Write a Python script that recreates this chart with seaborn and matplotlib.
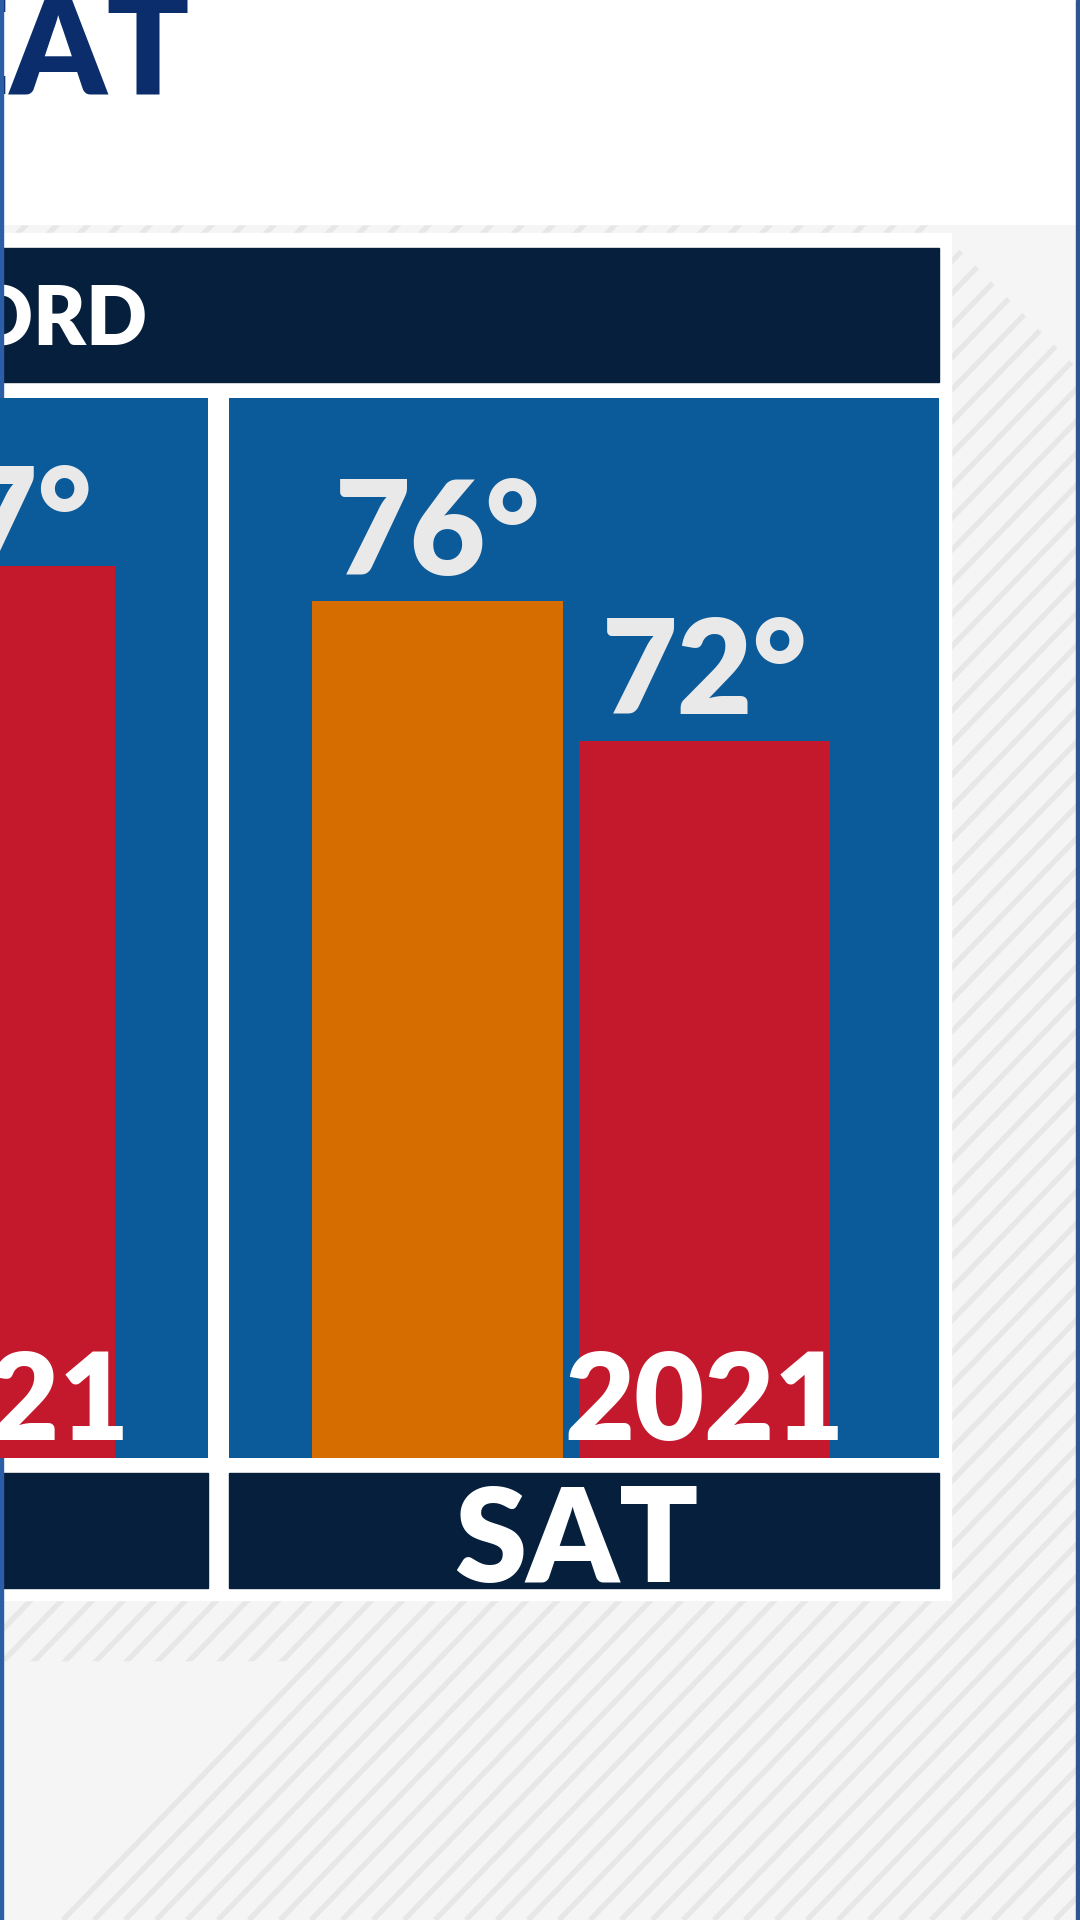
import numpy as np
import pandas as pd
import seaborn as sns
import matplotlib.pyplot as plt
from matplotlib.patches import Rectangle, Polygon
import matplotlib.transforms as mtransforms

series = ['record', '2021']
sat_temps = [76, 72]          # SAT panel: orange bar, red bar
prev_series = ['2021']
prev_temps = [77]             # panel cut off on the left, only its 2021 bar shows
day_label = 'SAT'
title = 'HEAT'
header = 'RECORD'

ORANGE = '#d66d00'
RED = '#c4182d'
PANEL = '#0b5a9a'
NAVY = '#061f3d'
TITLE_BLUE = '#0b2d6b'
GRAY = '#f5f5f5'
STRIPE = '#e7e7e7'
WEIGHT = 'heavy'

sns.set_theme(style='white')
plt.rcParams['font.family'] = ['Lato', 'DejaVu Sans']

W, H = 1080, 1920
fig = plt.figure(figsize=(10.8, 19.2), dpi=100)
fig.patch.set_facecolor('white')

# background in pixel coords
bg = fig.add_axes([0, 0, 1, 1])
bg.set_xlim(0, W)
bg.set_ylim(H, 0)
bg.axis('off')

bg.add_patch(Rectangle((0, 224), W, H - 224, color=GRAY, zorder=0))
ang = np.deg2rad(46)
for c in np.arange(-2200, 1200, 31):
    bg.plot([c, c + (H - 200) / np.tan(ang)], [H, 200], color=STRIPE,
            lw=3.8, zorder=1, solid_capstyle='butt')
bg.add_patch(Polygon([(0, 1662), (294, 1662), (37, H), (0, H)], color=GRAY, zorder=2))
bg.add_patch(Polygon([(935, 224), (W, 224), (W, 370)], color=GRAY, zorder=2))
bg.add_patch(Rectangle((0, 0), W, 224, color='white', zorder=3))
bg.add_patch(Rectangle((0, 233), 951, 1600 - 233, color='white', zorder=3))

# header, day bars
bg.add_patch(Rectangle((0, 248), 939, 382 - 248, color=NAVY, zorder=4))
bg.add_patch(Rectangle((0, 1473), 208, 1588 - 1473, color=NAVY, zorder=4))
bg.add_patch(Rectangle((229, 1473), 939 - 229, 1588 - 1473, color=NAVY, zorder=4))

# frame lines
bg.add_patch(Rectangle((0, 0), 3, H, color='#2b5ea6', zorder=6))
bg.add_patch(Rectangle((1076, 0), 4, H, color='#2d568f', zorder=6))

bg.text(190, 93, title, ha='right', va='baseline', fontsize=98,
        fontweight=WEIGHT, color=TITLE_BLUE, zorder=5)
bg.text(147, 345, header, ha='right', va='baseline', fontsize=58,
        fontweight=WEIGHT, color='white', zorder=5)
bg.text(576, 1582, day_label, ha='center', va='baseline', fontsize=94,
        fontweight=WEIGHT, color='white', zorder=5)

BASE_Y, TOP_Y = 1458, 398
YLIM = (51.5, 81.8)
BAR_W = 0.938


def panel_axes(left_px, right_px):
    ax = fig.add_axes([left_px / W, 1 - BASE_Y / H,
                       (right_px - left_px) / W, (BASE_Y - TOP_Y) / H])
    ax.set_facecolor(PANEL)
    return ax


def finish(ax, xlim):
    ax.set_xlim(*xlim)
    ax.set_ylim(*YLIM)
    ax.set_xlabel('')
    ax.set_ylabel('')
    ax.set_xticks([])
    ax.set_yticks([])
    sns.despine(ax=ax, left=True, bottom=True)


def label_bars(ax, names, pad):
    trans = mtransforms.blended_transform_factory(ax.transData, ax.transAxes)
    bars = [p for p in ax.patches if not np.isnan(p.get_height())]
    for p, name in zip(bars, names):
        xc = p.get_x() + p.get_width() / 2
        v = p.get_height()
        ax.annotate(f'{v:.0f}°', (xc, v), xytext=(0, pad), textcoords='offset points',
                    ha='center', va='baseline', fontsize=94, fontweight=WEIGHT,
                    color='#e9e9e9', annotation_clip=False)
        if name == '2021':
            ax.text(xc, 0.017, '2021', transform=trans, ha='center', va='baseline',
                    fontsize=87, fontweight=WEIGHT, color='white')


# right (SAT) panel
ax = panel_axes(229, 939)
df = pd.DataFrame({'series': series, 'temp': sat_temps})
sns.barplot(data=df, x='series', y='temp', hue='series', order=series,
            palette=[ORANGE, RED], width=BAR_W, saturation=1, legend=False,
            linewidth=0, edgecolor='none', ax=ax)
finish(ax, (-0.779, 1.875))
label_bars(ax, series, 19)

# left panel (mostly off-canvas)
ax2 = panel_axes(-502, 208)
df2 = pd.DataFrame({'series': prev_series, 'temp': prev_temps})
sns.barplot(data=df2, x='series', y='temp', order=series, color=RED,
            width=BAR_W, saturation=1, linewidth=0, edgecolor='none', ax=ax2)
finish(ax2, (-0.839, 1.815))
label_bars(ax2, prev_series, 3)

fig.savefig('out.png', dpi=100)
